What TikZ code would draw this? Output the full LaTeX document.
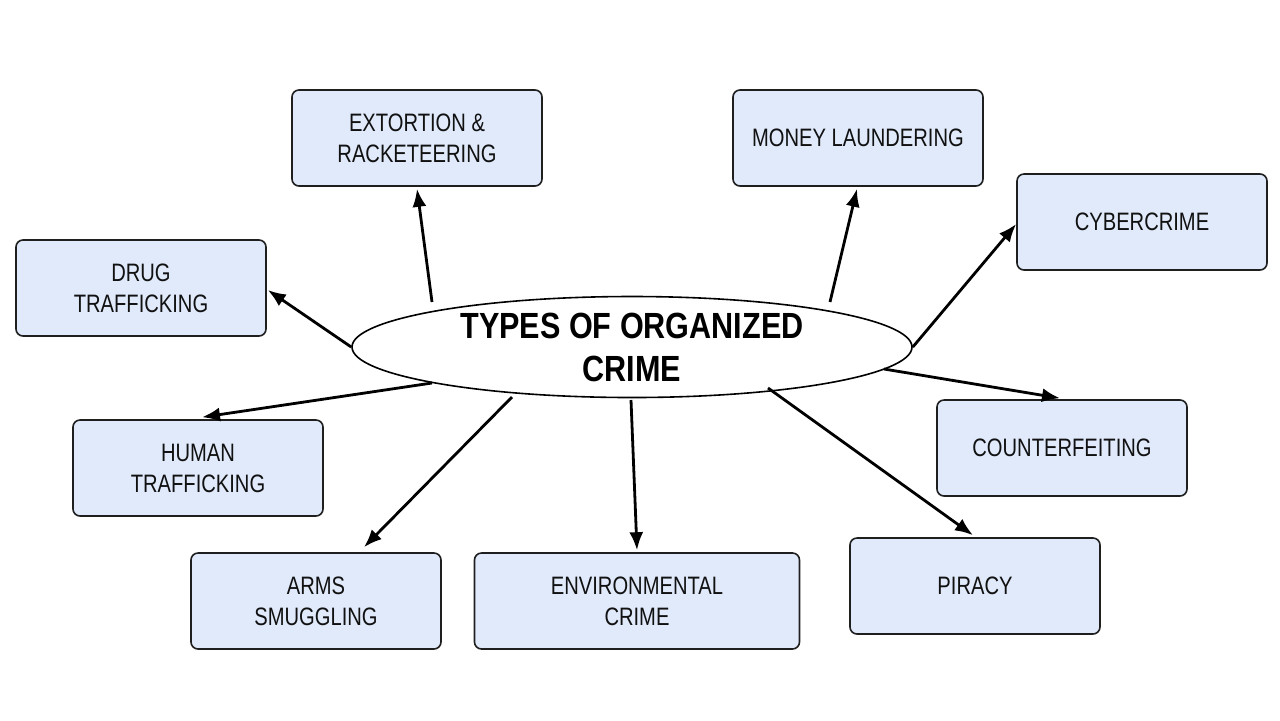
\documentclass[tikz,border=0pt]{standalone}
\usepackage{fontspec}
\setmainfont{Liberation Sans}[FakeStretch=0.8]
\newfontfamily\titlefont{Liberation Sans}[FakeStretch=0.84]
\usetikzlibrary{shapes.geometric,arrows.meta,calc}
\definecolor{boxfill}{HTML}{E0EAFB}
\definecolor{boxline}{HTML}{1F1F1F}
\definecolor{txt}{HTML}{111111}
\begin{document}
\begin{tikzpicture}[x=0.5pt,y=-0.5pt,
  crimebox/.style={draw=boxline,line width=0.8pt,fill=boxfill,rounded corners=3.5pt,
    minimum width=125pt,minimum height=48pt,align=center,text=txt,
    font=\fontsize{12.6}{15.5}\selectfont,inner sep=0pt},
  hub/.style={ellipse,draw=black,line width=0.8pt,fill=white,minimum width=280pt,
    minimum height=50.5pt,inner sep=0pt,align=center,
    font=\titlefont\fontsize{18.2}{21.5}\selectfont\bfseries},
  link/.style={line width=1.4pt,-{Latex[length=9pt,width=7pt]}}]
\useasboundingbox (0,0) rectangle (1280,720);
\fill[white] (0,0) rectangle (1280,720);

\node[crimebox] (ext) at (417,138) {EXTORTION \&\\RACKETEERING};
\node[crimebox] (money) at (858,138) {MONEY LAUNDERING};
\node[crimebox] (cyber) at (1142,222) {CYBERCRIME};
\node[crimebox] (drug) at (141,288) {DRUG\\TRAFFICKING};
\node[crimebox] (human) at (198,468) {HUMAN\\TRAFFICKING};
\node[crimebox] (arms) at (316,601) {ARMS\\SMUGGLING};
\node[crimebox,minimum width=162.5pt] (env) at (637,601) {ENVIRONMENTAL\\CRIME};
\node[crimebox] (piracy) at (975,586) {PIRACY};
\node[crimebox] (counter) at (1062,448) {COUNTERFEITING};

\node[hub] (title) at (632,347) {TYPES OF ORGANIZED\\CRIME};

\draw[link] ($(title.center)+(-200,-45)$) -- ($(ext.south)+(0,2)$);
\draw[link] ($(title.center)+(198,-45)$) -- ($(money.south)+(-1,2)$);
\draw[link] (title.east) -- ($(cyber.west)+(0,2)$);
\draw[link] (title.west) -- ($(drug.east)+(1,2)$);
\draw[link] ($(title.center)+(-200,36)$) -- ($(human.north)+(4,-2)$);
\draw[link] ($(title.center)+(-120,50)$) -- ($(arms.north)+(48,-5)$);
\draw[link] ($(title.center)+(-1,53)$) -- ($(env.north)+(0,-2)$);
\draw[link] ($(title.center)+(136,41)$) -- ($(piracy.north)+(-2,-2)$);
\draw[link] ($(title.center)+(252,22)$) -- ($(counter.north)+(-2,-1)$);
\end{tikzpicture}
\end{document}
